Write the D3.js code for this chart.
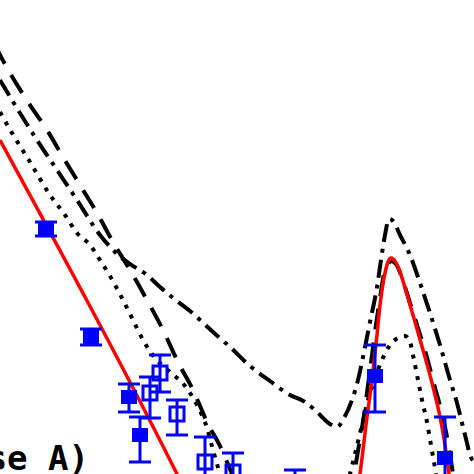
<!DOCTYPE html>
<html>
<head>
<meta charset="utf-8">
<script src="https://cdn.jsdelivr.net/npm/d3@7"></script>
<style>
  body { margin: 0; background: #fff; }
  svg { display: block; }
</style>
</head>
<body>
<svg id="canvas"></svg>
<script>
// curves: [x, y] in plot units
let redCurve = [
  [0, 33.4], [17.7, 0], [19.0, -2.6], [27, -8.6], [35, -4.6], [36, 0], [36.3, 2.4],
  [36.6, 4.9], [37, 7.9], [37.4, 11.2], [37.7, 13.9], [38, 16.9], [38.4, 19.6],
  [38.8, 21.2], [39.1, 21.6], [39.5, 21.3], [40, 20.2], [40.8, 17.6], [41.5, 15.2],
  [42.3, 12.4], [43.2, 9.1], [44, 5.7], [44.5, 2.9], [44.9, 0], [45.2, -2.6]
];
let dashedCurve = [
  [-0.5, 42.9], [0, 41.9], [1.0, 40.1], [2.8, 37.2], [4.7, 34.4], [6.3, 31.7],
  [8.0, 28.9], [9.7, 26.1], [11.3, 23.2], [13.0, 20.4], [14.7, 17.4], [16.3, 14.4],
  [17.8, 11.2], [19.3, 8.4], [20.8, 5.0], [22.0, 2.8], [23.2, 0], [24.5, -3.1],
  [34.0, -4.6], [35.4, 0], [35.9, 2.9], [36.4, 5.9], [36.8, 8.9], [37.2, 11.9],
  [37.6, 14.9], [38.0, 17.6], [38.4, 20.0], [38.8, 21.0], [39.1, 21.3], [39.6, 21.0],
  [40.2, 19.6], [41.0, 17.1], [41.8, 14.6], [42.6, 12.0], [43.4, 9.0], [44.3, 5.6],
  [44.9, 2.6], [45.3, 0], [45.8, -3.1]
];
let dashDotCurve = [
  [0, 39.4], [1.2, 37.4], [3.5, 33.7], [5.7, 30.4], [7.7, 27.4], [10, 23.9],
  [11.5, 22.2], [13, 21], [14.7, 19.9], [16, 18.7], [17.3, 17.6], [19, 16.3],
  [21.3, 14.2], [23, 12.7], [25, 10.8], [27, 9.3], [29, 7.9], [30.5, 7.2],
  [31.5, 6.4], [33, 5.0], [33.7, 4.7], [34.4, 5.6], [35.2, 7.4], [35.8, 9.4],
  [36.3, 11.7], [37, 15.2], [37.7, 18.7], [38.1, 21.4], [38.5, 23.9], [38.9, 25.5],
  [39.3, 25.3], [40, 23.9], [41, 21.9], [42, 19.1], [43, 16.1], [44, 12.9],
  [45, 9.4], [45.7, 7.1], [46.3, 4.7], [46.7, 3.1], [47, 1.9], [47.4, 1.3], [48, 1.1]
];
let dottedCurve = [
  [0, 36.2], [1.2, 34.1], [3, 31.2], [5, 27.9], [6.5, 25.9], [7.7, 24.1], [9, 22.9],
  [10, 21.4], [11, 19.8], [12.3, 17.4], [13.3, 15.4], [14.3, 13.4], [15.5, 11.6],
  [17, 10.2], [18.5, 8.8], [19.7, 6.9], [20.7, 4.6], [21.3, 2.4], [22, 0], [22.8, -2.6],
  [34, -4.6], [35, 0], [35.6, 2.4], [36.2, 4.9], [36.8, 7.4], [37.5, 9.6], [38.2, 11.4],
  [39, 12.9], [39.8, 13.6], [40.5, 13.8], [41, 13.2], [41.4, 11.4], [41.8, 9.4],
  [42.2, 7.4], [42.7, 5.2], [43.1, 2.9], [43.6, 0], [44, -2.6]
];

// data points: [x, y, errTop, errBottom]
let filledPoints = [
  [4.6, 24.5, 25.2, 23.8],
  [9.1, 13.7, 14.5, 12.9],
  [12.9, 7.7, 9.0, 6.2],
  [14.0, 3.9, 5.7, 1.2],
  [37.5, 9.8, 12.9, 6.2],
  [44.5, 1.6, 5.7, -2.6]
];
let openPoints = [
  [16.0, 10.1, 11.9, 8.2],
  [15.0, 8.1, 9.7, 5.6],
  [17.7, 6.0, 7.4, 3.9],
  [20.5, 1.2, 3.7, -2.0],
  [23.3, 0.2, 2.1, -2.6],
  [29.5, -1.6, 0.4, -3.6]
];

let label = "(Phase A)";

let width = 474;
let height = 474;

let canvas = d3.select("#canvas").attr("width", width).attr("height", height);

let xScale = d3.scaleLinear().domain([0, 47.4]).range([0, width]);
let yScale = d3.scaleLinear().domain([0, 47.4]).range([height, 0]);

let line = d3
  .line()
  .x((d) => xScale(d[0]))
  .y((d) => yScale(d[1]))
  .curve(d3.curveMonotoneX);

let drawCurve = (data, color, w, dash) => {
  canvas
    .append("path")
    .attr("d", line(data))
    .attr("fill", "none")
    .attr("stroke", color)
    .attr("stroke-width", w)
    .attr("stroke-dasharray", dash)
    .attr("stroke-linecap", "butt");
};

drawCurve(dottedCurve, "#000", 4, "4,7");
drawCurve(dashDotCurve, "#000", 4, "18,7,4,7");
drawCurve(dashedCurve, "#000", 4, "21,13");
drawCurve(redCurve, "#ff0000", 3.5, null);

let capW = 22;
let blue = "#0000ff";

let drawErrorBars = (data) => {
  let g = canvas.append("g").attr("stroke", blue).attr("stroke-width", 3);
  g.selectAll(".stem")
    .data(data)
    .enter()
    .append("line")
    .attr("x1", (d) => xScale(d[0]))
    .attr("x2", (d) => xScale(d[0]))
    .attr("y1", (d) => yScale(d[2]))
    .attr("y2", (d) => yScale(d[3]));
  g.selectAll(".capTop")
    .data(data)
    .enter()
    .append("line")
    .attr("x1", (d) => xScale(d[0]) - capW / 2)
    .attr("x2", (d) => xScale(d[0]) + capW / 2)
    .attr("y1", (d) => yScale(d[2]))
    .attr("y2", (d) => yScale(d[2]));
  g.selectAll(".capBottom")
    .data(data)
    .enter()
    .append("line")
    .attr("x1", (d) => xScale(d[0]) - capW / 2)
    .attr("x2", (d) => xScale(d[0]) + capW / 2)
    .attr("y1", (d) => yScale(d[3]))
    .attr("y2", (d) => yScale(d[3]));
};

drawErrorBars(openPoints);
drawErrorBars(filledPoints);

canvas
  .selectAll(".open")
  .data(openPoints)
  .enter()
  .append("rect")
  .attr("x", (d) => xScale(d[0]) - 7)
  .attr("y", (d) => yScale(d[1]) - 7)
  .attr("width", 14)
  .attr("height", 14)
  .attr("fill", "none")
  .attr("stroke", blue)
  .attr("stroke-width", 3);

canvas
  .selectAll(".filled")
  .data(filledPoints)
  .enter()
  .append("rect")
  .attr("x", (d) => xScale(d[0]) - 8)
  .attr("y", (d) => yScale(d[1]) - 7)
  .attr("width", 16)
  .attr("height", 14)
  .attr("fill", blue);

// label is cut by the left edge in the reference too
canvas
  .append("text")
  .attr("x", 89)
  .attr("y", 470)
  .attr("text-anchor", "end")
  .attr("font-family", "'DejaVu Sans Mono', monospace")
  .attr("font-weight", "bold")
  .attr("font-size", 34)
  .attr("fill", "#000")
  .text(label);
</script>
</body>
</html>
